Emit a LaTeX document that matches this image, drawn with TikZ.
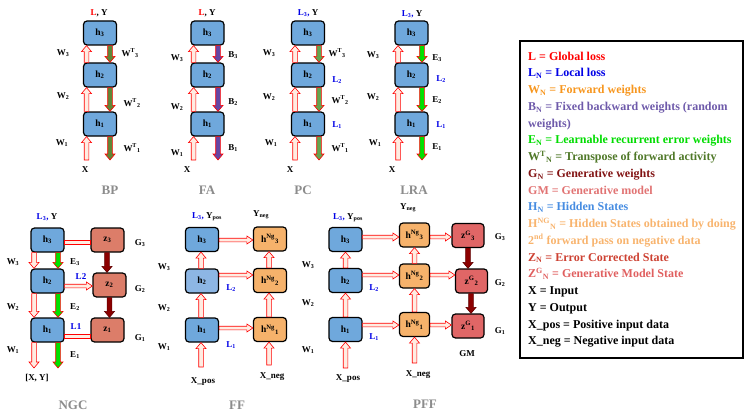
\documentclass[tikz,border=0pt]{standalone}
\usepackage{fontspec}
\setmainfont{Liberation Serif}
\usetikzlibrary{calc}

\definecolor{hblue}{RGB}{111,168,220}
\definecolor{hbluelight}{RGB}{141,182,228}
\definecolor{zsalmon}{RGB}{220,125,105}
\definecolor{zgred}{RGB}{224,102,102}
\definecolor{hngorange}{RGB}{246,178,107}
\definecolor{hollowfill}{RGB}{255,236,226}
\definecolor{wtgreen}{RGB}{95,135,55}
\definecolor{pcgreen}{RGB}{100,165,80}
\definecolor{fapurple}{RGB}{100,70,165}
\definecolor{egreen}{RGB}{0,225,0}
\definecolor{genred}{RGB}{140,0,0}
\definecolor{titlegrey}{RGB}{140,140,140}
\definecolor{cL}{RGB}{255,0,0}
\definecolor{cLN}{RGB}{0,0,230}
\definecolor{cWN}{RGB}{247,150,30}
\definecolor{cBN}{RGB}{110,90,170}
\definecolor{cEN}{RGB}{0,220,0}
\definecolor{cWT}{RGB}{79,120,40}
\definecolor{cGN}{RGB}{130,20,20}
\definecolor{cGM}{RGB}{225,115,115}
\definecolor{cHN}{RGB}{70,140,225}
\definecolor{cHNG}{RGB}{248,180,110}
\definecolor{cZN}{RGB}{205,65,50}
\definecolor{cZG}{RGB}{224,95,95}

\newcommand\blockarrow[7]{%
  \path (#6) coordinate (bA) (#7) coordinate (bB);
  \coordinate (bC) at ($(bB)!#5!(bA)$);
  \filldraw[fill=#1, draw=#2, line width=0.6pt, line join=miter]
    ($(bA)!#3!90:(bB)$) -- ($(bC)!#3!90:(bB)$) -- ($(bC)!#4!90:(bB)$) -- (bB)
    -- ($(bC)!#4!-90:(bB)$) -- ($(bC)!#3!-90:(bB)$) -- ($(bA)!#3!-90:(bB)$) -- cycle;
}
\newcommand\hollow[2]{\blockarrow{hollowfill}{red}{2.3pt}{5pt}{6pt}{#1}{#2}}
\newcommand\filled[3]{\blockarrow{#1}{red}{2.3pt}{5pt}{6pt}{#2}{#3}}
\newcommand\hhollow[2]{\blockarrow{hollowfill}{red}{1.8pt}{4pt}{6pt}{#1}{#2}}
\newcommand\genarrow[2]{\blockarrow{genred}{genred!70!black}{2.4pt}{5pt}{6pt}{#1}{#2}}
\newcommand\hollowbar[2]{%
  \path (#1) coordinate (bA) (#2) coordinate (bB);
  \filldraw[fill=hollowfill, draw=red, line width=0.6pt]
    ($(bA)!1.8pt!90:(bB)$) -- ($(bB)!1.8pt!-90:(bA)$) -- ($(bB)!1.8pt!90:(bA)$) -- ($(bA)!1.8pt!-90:(bB)$) -- cycle;
}

\tikzset{
  hbox/.style={draw=black, line width=1.2pt, rounded corners=3.5pt, fill=hblue,
    minimum width=33pt, minimum height=24pt, inner sep=0pt,
    font=\fontsize{9.5}{10}\selectfont\bfseries},
  lab/.style={font=\fontsize{9}{10}\selectfont\bfseries, inner sep=0pt},
  blab/.style={lab, text=cLN},
  ttl/.style={font=\fontsize{13}{14}\selectfont\bfseries, text=titlegrey, inner sep=0pt},
}

\begin{document}
\begin{tikzpicture}[x=1pt, y=-1pt]
\useasboundingbox (0,0) rectangle (747,412);

% ================= BP =================
\node[hbox] (bp3) at (100,33) {h\textsubscript{3}};
\node[hbox] (bp2) at (100,75) {h\textsubscript{2}};
\node[hbox] (bp1) at (100,124) {h\textsubscript{1}};
\coordinate (bpL) at (86.5,160);
\coordinate (bpR) at (110,160);
\hollow{bpL}{bp1.south -| bpL}
\hollow{bp1.north -| bpL}{bp2.south -| bpL}
\hollow{bp2.north -| bpL}{bp3.south -| bpL}
\filled{wtgreen}{bp3.south -| bpR}{bp2.north -| bpR}
\filled{wtgreen}{bp2.south -| bpR}{bp1.north -| bpR}
\filled{wtgreen}{bp1.south -| bpR}{bpR}
\node[lab] (bptop) at (99,13) {{\color{cL}L}, Y};
\node[lab] (bpw3) at (63,53) {W\textsubscript{3}};
\node[lab] (bpw2) at (63,96) {W\textsubscript{2}};
\node[lab] (bpw1) at (62,143) {W\textsubscript{1}};
\node[lab] (bpt3) at (130,53) {W\textsuperscript{T}\textsubscript{3}};
\node[lab] (bpt2) at (132,103) {W\textsuperscript{T}\textsubscript{2}};
\node[lab] (bpt1) at (132,148) {W\textsuperscript{T}\textsubscript{1}};
\node[lab] (bpx) at (85,170) {X};
\node[ttl] (bpttl) at (110,190) {BP};

% ================= FA =================
\node[hbox] (fa3) at (207.5,33) {h\textsubscript{3}};
\node[hbox] (fa2) at (207.5,75) {h\textsubscript{2}};
\node[hbox] (fa1) at (207.5,124) {h\textsubscript{1}};
\coordinate (faL) at (193.5,160);
\coordinate (faR) at (218,160);
\hollow{faL}{fa1.south -| faL}
\hollow{fa1.north -| faL}{fa2.south -| faL}
\hollow{fa2.north -| faL}{fa3.south -| faL}
\filled{fapurple}{fa3.south -| faR}{fa2.north -| faR}
\filled{fapurple}{fa2.south -| faR}{fa1.north -| faR}
\filled{fapurple}{fa1.south -| faR}{faR}
\node[lab] (fatop) at (207,13) {{\color{cL}L}, Y};
\node[lab] (faw3) at (177,58) {W\textsubscript{3}};
\node[lab] (faw2) at (177,107) {W\textsubscript{2}};
\node[lab] (faw1) at (177,153) {W\textsubscript{1}};
\node[lab] (fab3) at (233,55) {B\textsubscript{3}};
\node[lab] (fab2) at (233,102) {B\textsubscript{2}};
\node[lab] (fab1) at (233,148) {B\textsubscript{1}};
\node[lab] (fax) at (187,170) {X};
\node[ttl] (fattl) at (207,190) {FA};

% ================= PC =================
\node[hbox] (pc3) at (308,33) {h\textsubscript{3}};
\node[hbox] (pc2) at (308,75) {h\textsubscript{2}};
\node[hbox] (pc1) at (308,124) {h\textsubscript{1}};
\coordinate (pcL) at (295,160);
\coordinate (pcR) at (319,160);
\hollow{pcL}{pc1.south -| pcL}
\hollow{pc1.north -| pcL}{pc2.south -| pcL}
\hollow{pc2.north -| pcL}{pc3.south -| pcL}
\filled{pcgreen}{pc3.south -| pcR}{pc2.north -| pcR}
\filled{pcgreen}{pc2.south -| pcR}{pc1.north -| pcR}
\filled{pcgreen}{pc1.south -| pcR}{pcR}
\node[lab] (pctop) at (308,13) {{\color{cLN}L\textsubscript{3},} Y};
\node[lab] (pcw3) at (269,53) {W\textsubscript{3}};
\node[lab] (pcw2) at (269,97) {W\textsubscript{2}};
\node[lab] (pcw1) at (271,143) {W\textsubscript{1}};
\node[lab] (pct3) at (337,53) {W\textsuperscript{T}\textsubscript{3}};
\node[blab] (pcl2) at (337,80) {L\textsubscript{2}};
\node[lab] (pct2) at (340,100) {W\textsuperscript{T}\textsubscript{2}};
\node[blab] (pcl1) at (337,125) {L\textsubscript{1}};
\node[lab] (pct1) at (340,148) {W\textsuperscript{T}\textsubscript{1}};
\node[lab] (pcx) at (290,170) {X};
\node[ttl] (pcttl) at (303,190) {PC};

% ================= LRA =================
\node[hbox] (lr3) at (411.5,33) {h\textsubscript{3}};
\node[hbox] (lr2) at (411.5,75) {h\textsubscript{2}};
\node[hbox] (lr1) at (411.5,124) {h\textsubscript{1}};
\coordinate (lrL) at (398,160);
\coordinate (lrR) at (422,160);
\hollow{lrL}{lr1.south -| lrL}
\hollow{lr1.north -| lrL}{lr2.south -| lrL}
\hollow{lr2.north -| lrL}{lr3.south -| lrL}
\filled{egreen}{lr3.south -| lrR}{lr2.north -| lrR}
\filled{egreen}{lr2.south -| lrR}{lr1.north -| lrR}
\filled{egreen}{lr1.south -| lrR}{lrR}
\node[lab] (lrtop) at (412,14) {{\color{cLN}L\textsubscript{3},} Y};
\node[lab] (lrw3) at (373,55) {W\textsubscript{3}};
\node[lab] (lrw2) at (373,97) {W\textsubscript{2}};
\node[lab] (lrw1) at (375,143) {W\textsubscript{1}};
\node[lab] (lre3) at (437,58) {E\textsubscript{3}};
\node[blab] (lrl2) at (441,79) {L\textsubscript{2}};
\node[lab] (lre2) at (437,100) {E\textsubscript{2}};
\node[blab] (lrl1) at (441,125) {L\textsubscript{1}};
\node[lab] (lre1) at (437,147) {E\textsubscript{1}};
\node[lab] (lrx) at (392,170) {X};
\node[ttl] (lrttl) at (414,190) {LRA};

% ================= NGC =================
\node[hbox] (ngh3) at (47.5,240) {h\textsubscript{3}};
\node[hbox] (ngh2) at (47.5,281) {h\textsubscript{2}};
\node[hbox] (ngh1) at (47.5,330) {h\textsubscript{1}};
\node[hbox, fill=zsalmon] (ngz3) at (107.5,240) {z\textsubscript{3}};
\node[hbox, fill=zsalmon] (ngz2) at (109.5,285) {z\textsubscript{2}};
\node[hbox, fill=zsalmon] (ngz1) at (107.5,330) {z\textsubscript{1}};
\coordinate (ngL) at (34,368);
\coordinate (ngR) at (58,368);
\hollow{ngh3.south -| ngL}{ngh2.north -| ngL}
\hollow{ngh2.south -| ngL}{ngh1.north -| ngL}
\hollow{ngh1.south -| ngL}{ngL}
\filled{egreen}{ngh3.south -| ngR}{ngh2.north -| ngR}
\filled{egreen}{ngh2.south -| ngR}{ngh1.north -| ngR}
\filled{egreen}{ngh1.south -| ngR}{ngR}
\coordinate (ngr3) at (0,242);
\coordinate (ngr2) at (0,286);
\coordinate (ngr1) at (0,336);
\hollowbar{ngh3.east |- ngr3}{ngz3.west |- ngr3}
\hhollow{ngh2.east |- ngr2}{ngz2.west |- ngr2}
\hollowbar{ngh1.east |- ngr1}{ngz1.west |- ngr1}
\coordinate (ngc3) at (107,0);
\coordinate (ngc2) at (109.5,0);
\genarrow{ngz3.south -| ngc3}{ngz2.north -| ngc3}
\genarrow{ngz2.south -| ngc2}{ngz1.north -| ngc2}
\node[lab] (ngtop) at (47,217) {{\color{cLN}L\textsubscript{3},} Y};
\node[lab] (ngw3) at (13,262) {W\textsubscript{3}};
\node[lab] (ngw2) at (13,307) {W\textsubscript{2}};
\node[lab] (ngw1) at (13,350) {W\textsubscript{1}};
\node[lab] (nge3) at (75,262) {E\textsubscript{3}};
\node[lab] (nge2) at (75,307) {E\textsubscript{2}};
\node[lab] (nge1) at (75,355) {E\textsubscript{1}};
\node[blab] (ngl2) at (81,277) {L2};
\node[blab] (ngl1) at (76,327) {L1};
\node[lab] (ngg3) at (140,243) {G\textsubscript{3}};
\node[lab] (ngg2) at (140,289) {G\textsubscript{2}};
\node[lab] (ngg1) at (140,338) {G\textsubscript{1}};
\node[lab] (ngxy) at (37,378) {[X, Y]};
\node[ttl] (ngttl) at (73,405) {NGC};

% ================= FF =================
\node[hbox] (ffh3) at (202,239.5) {h\textsubscript{3}};
\node[hbox, fill=hbluelight] (ffh2) at (202,281) {h\textsubscript{2}};
\node[hbox] (ffh1) at (202,330) {h\textsubscript{1}};
\node[hbox, fill=hngorange] (ffn3) at (270,239) {h\textsuperscript{Ng}\textsubscript{3}};
\node[hbox, fill=hngorange] (ffn2) at (270,280.5) {h\textsuperscript{Ng}\textsubscript{2}};
\node[hbox, fill=hngorange] (ffn1) at (270,329.5) {h\textsuperscript{Ng}\textsubscript{1}};
\coordinate (ffin) at (201,367);
\coordinate (ffneg) at (269,365);
\hollow{ffin}{ffh1.south -| ffin}
\hollow{ffh1.north -| ffin}{ffh2.south -| ffin}
\hollow{ffh2.north -| ffin}{ffh3.south -| ffin}
\hollow{ffneg}{ffn1.south -| ffneg}
\hollow{ffn1.north -| ffneg}{ffn2.south -| ffneg}
\hollow{ffn2.north -| ffneg}{ffn3.south -| ffneg}
\coordinate (ffr3) at (0,240);
\coordinate (ffr2) at (0,275);
\coordinate (ffr1) at (0,328);
\hhollow{ffh3.east |- ffr3}{ffn3.west |- ffr3}
\hhollow{ffh2.east |- ffr2}{ffn2.west |- ffr2}
\hhollow{ffh1.east |- ffr1}{ffn1.west |- ffr1}
\node[lab] (fftop) at (207,217) {{\color{cLN}L\textsubscript{3},} Y\textsubscript{pos}};
\node[lab] (ffyneg) at (261,215) {Y\textsubscript{neg}};
\node[lab] (ffw3) at (164,267) {W\textsubscript{3}};
\node[lab] (ffw2) at (164,308) {W\textsubscript{2}};
\node[lab] (ffw1) at (164,347) {W\textsubscript{1}};
\node[blab] (ffl2) at (231,288) {L\textsubscript{2}};
\node[blab] (ffl1) at (231,345) {L\textsubscript{1}};
\node[lab] (ffxp) at (203,382) {X\_pos};
\node[lab] (ffxn) at (272,377) {X\_neg};
\node[ttl] (ffttl) at (237,405) {FF};

% ================= PFF =================
\node[hbox] (ph3) at (345.5,239.5) {h\textsubscript{3}};
\node[hbox] (ph2) at (345.5,280.5) {h\textsubscript{2}};
\node[hbox] (ph1) at (345.5,329.5) {h\textsubscript{1}};
\node[hbox, fill=hngorange, minimum width=30pt] (pn3) at (414.5,235) {h\textsuperscript{Ng}\textsubscript{3}};
\node[hbox, fill=hngorange, minimum width=30pt] (pn2) at (414.5,276) {h\textsuperscript{Ng}\textsubscript{2}};
\node[hbox, fill=hngorange, minimum width=30pt] (pn1) at (414.5,324.5) {h\textsuperscript{Ng}\textsubscript{1}};
\node[hbox, fill=zgred, minimum width=32pt] (pz3) at (468,235.5) {z\textsuperscript{G}\textsubscript{3}};
\node[hbox, fill=zgred, minimum width=32pt] (pz2) at (471.5,281) {z\textsuperscript{G}\textsubscript{2}};
\node[hbox, fill=zgred, minimum width=32pt] (pz1) at (468,326) {z\textsuperscript{G}\textsubscript{1}};
\coordinate (pin) at (345.5,368);
\coordinate (pneg) at (414.5,363);
\hollow{pin}{ph1.south -| pin}
\hollow{ph1.north -| pin}{ph2.south -| pin}
\hollow{ph2.north -| pin}{ph3.south -| pin}
\hollow{pneg}{pn1.south -| pneg}
\hollow{pn1.north -| pneg}{pn2.south -| pneg}
\hollow{pn2.north -| pneg}{pn3.south -| pneg}
\coordinate (pr3) at (0,237);
\coordinate (pr2) at (0,275);
\coordinate (pr1) at (0,325);
\hhollow{ph3.east |- pr3}{pn3.west |- pr3}
\hhollow{ph2.east |- pr2}{pn2.west |- pr2}
\hhollow{ph1.east |- pr1}{pn1.west |- pr1}
\hhollow{pn3.east |- pr3}{pz3.west |- pr3}
\hhollow{pn2.east |- pr2}{pz2.west |- pr2}
\hhollow{pn1.east |- pr1}{pz1.west |- pr1}
\coordinate (pc3x) at (468,0);
\coordinate (pc2x) at (471,0);
\genarrow{pz3.south -| pc3x}{pz2.north -| pc3x}
\genarrow{pz2.south -| pc2x}{pz1.north -| pc2x}
\node[lab] (ptop) at (348,218) {{\color{cLN}L\textsubscript{3},} Y\textsubscript{pos}};
\node[lab] (pyneg) at (408,208) {Y\textsubscript{neg}};
\node[lab] (pw3) at (308,265) {W\textsubscript{3}};
\node[lab] (pw2) at (308,303) {W\textsubscript{2}};
\node[lab] (pw1) at (308,350) {W\textsubscript{1}};
\node[blab] (pl2) at (374,288) {L\textsubscript{2}};
\node[blab] (pl1) at (374,337) {L\textsubscript{1}};
\node[lab] (pg3) at (500,237) {G\textsubscript{3}};
\node[lab] (pg2) at (500,283) {G\textsubscript{2}};
\node[lab] (pg1) at (500,331) {G\textsubscript{1}};
\node[lab] (pgm) at (467,354) {GM};
\node[lab] (pxp) at (348,379) {X\_pos};
\node[lab] (pxn) at (418,375) {X\_neg};
\node[ttl] (pttl) at (425,404) {PFF};

% ================= Legend =================
\node[draw=black, line width=1.3pt, minimum width=223pt, minimum height=317pt, inner sep=0pt] (legendbox) at (631.5,199.5) {};
\node[anchor=north west, inner sep=0pt, align=left, font=\fontsize{12}{16.75}\selectfont\bfseries] (legendtext) at (528,51.5) {%
{\color{cL}L = Global loss}\\
{\color{cLN}L\textsubscript{N} = Local loss}\\
{\color{cWN}W\textsubscript{N} = Forward weights}\\
{\color{cBN}B\textsubscript{N} = Fixed backward weights (random}\\
{\color{cBN}weights)}\\
{\color{cEN}E\textsubscript{N} = Learnable recurrent error weights}\\
{\color{cWT}W\textsuperscript{T}\textsubscript{N} = Transpose of forward activity}\\
{\color{cGN}G\textsubscript{N} = Generative weights}\\
{\color{cGM}GM = Generative model}\\
{\color{cHN}H\textsubscript{N} = Hidden States}\\
{\color{cHNG}H\textsuperscript{NG}\textsubscript{N} = Hidden States obtained by doing}\\
{\color{cHNG}2\textsuperscript{nd} forward pass on negative data}\\
{\color{cZN}Z\textsubscript{N} = Error Corrected State}\\
{\color{cZG}Z\textsuperscript{G}\textsubscript{N} = Generative Model State}\\
X = Input\\
Y = Output\\
X\_pos = Positive input data\\
X\_neg = Negative input data};
\end{tikzpicture}
\end{document}
